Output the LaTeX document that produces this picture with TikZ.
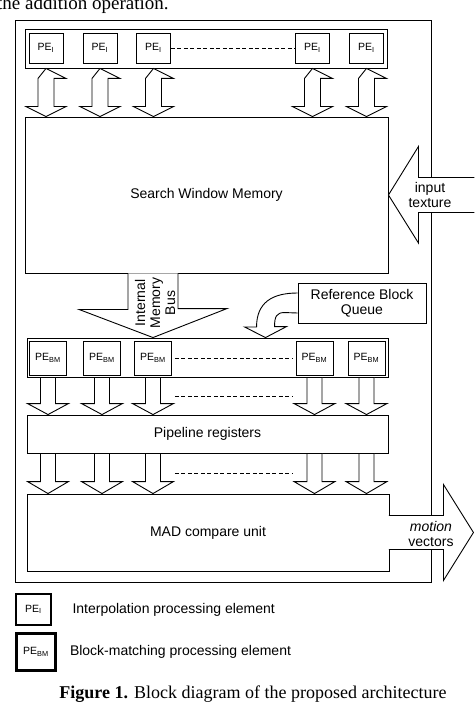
\documentclass[tikz,border=0pt]{standalone}
\usepackage{fontspec}
\setmainfont{Liberation Serif}
\setsansfont{Liberation Sans}
\usetikzlibrary{positioning,calc}

\newcommand{\bigtext}{\sffamily\fontsize{14}{15}\selectfont}
\newcommand{\petext}{\sffamily\fontsize{10.5}{12}\selectfont}

\begin{document}
\begin{tikzpicture}[
    x=1pt, y=-1pt,
    blockbox/.style={draw, line width=0.9pt, fill=white, inner sep=0pt, align=center, font=\bigtext},
    pebox/.style={draw, line width=0.8pt, fill=white, inner sep=0pt, font=\petext},
    legendbox/.style={draw, line width=2.6pt, inner sep=0pt, font=\petext},
    blockarrow/.style={draw, fill=white, line width=0.9pt},
    dashline/.style={line width=0.8pt, dash pattern=on 4pt off 2.5pt},
    plaintext/.style={inner sep=0pt, align=center, font=\bigtext}
  ]
  \useasboundingbox (0,0) rectangle (474,706);

  \node[anchor=base west, inner sep=0pt, font=\fontsize{19}{21}\selectfont] (bodytext) at (-3,10) {the addition operation.};
  \node[draw, line width=0.9pt, minimum width=416pt, minimum height=562pt] (frame) at (223,301) {};

  % interpolation row
  \node[blockbox, minimum width=362pt, minimum height=39pt] (perow) at (206,48.5) {};
  \node[pebox, minimum width=34pt, minimum height=30pt] (pei1) at (46,48) {PE\textsubscript{I}};
  \node[pebox, minimum width=34pt, minimum height=30pt] (pei2) at (100,48) {PE\textsubscript{I}};
  \node[pebox, minimum width=34pt, minimum height=30pt] (pei3) at (153.5,48) {PE\textsubscript{I}};
  \node[pebox, minimum width=34pt, minimum height=30pt] (pei4) at (312.5,48) {PE\textsubscript{I}};
  \node[pebox, minimum width=34pt, minimum height=30pt] (pei5) at (366.5,48) {PE\textsubscript{I}};
  \draw[dashline] (pei3) -- (pei4);

  \node[blockbox, minimum width=363pt, minimum height=156pt] (swm) at (206.5,195) {Search Window Memory};

  \foreach \i in {1,...,5}
    \draw[blockarrow] (pei\i |- perow.south) -- ++(20,10) -| ($(pei\i |- swm.north)+(8,-10)$) -- ++(12,0) -- (pei\i |- swm.north) -- ++(-20,-10) -| ($(pei\i |- perow.south)+(-8,10)$) -- cycle;

  \draw[blockarrow] ($(swm.east)+(86,-17.5)$) -- ++(-56,0) -- ++(0,-31) -- (swm.east) -- ++(30,48) -- ++(0,-30.5) -- ++(56,0);
  \node[plaintext] (intex) at (430,195) {input\\texture};

  % block-matching row
  \node[blockbox, minimum width=361pt, minimum height=39pt] (bmrow) at (207.5,357.5) {};
  \node[pebox, minimum width=37pt, minimum height=34pt] (pebm1) at (48,358) {PE\textsubscript{BM}};
  \node[pebox, minimum width=37pt, minimum height=34pt] (pebm2) at (102,358) {PE\textsubscript{BM}};
  \node[pebox, minimum width=37pt, minimum height=34pt] (pebm3) at (153,358) {PE\textsubscript{BM}};
  \node[pebox, minimum width=37pt, minimum height=34pt] (pebm4) at (314.5,358) {PE\textsubscript{BM}};
  \node[pebox, minimum width=37pt, minimum height=34pt] (pebm5) at (366.5,358) {PE\textsubscript{BM}};
  \draw[dashline, shorten <=3pt, shorten >=3pt] (pebm3) -- (pebm4);

  \draw[blockarrow] ($(pebm3 |- swm.south)+(-25,0)$) -- ++(0,36) -- ++(-49,0) -- (pebm3 |- bmrow.north) -- ++(74,-29) -- ++(-49,0) -- ($(pebm3 |- swm.south)+(25,0)$);
  \node[plaintext, rotate=90] (imbus) at (155,303) {Internal\\Memory\\Bus};

  \node[blockbox, minimum width=128pt, minimum height=40pt] (rbq) at (362,303) {Reference Block\\Queue};
  \draw[blockarrow] ($(rbq.west)+(0,-10)$) .. controls +(-26,0) and +(0,-24) .. ++(-41,34) -- ++(-12,0) -- ($(rbq.west |- bmrow.north)+(-32,0)$) -- ++(21,-11) -- ++(-12,0) .. controls +(0,-10) and +(-8,0) .. ++(10,-14) -- ($(rbq.west)+(0,10)$);

  \node[blockbox, minimum width=361pt, minimum height=38pt] (pipe) at (207.5,434) {Pipeline registers};
  \node[blockbox, minimum width=362pt, minimum height=77pt] (mad) at (208,532.5) {MAD compare unit};

  \foreach \i in {1,...,5}{
    \draw[blockarrow] ($(pebm\i |- bmrow.south)+(-7.5,0)$) |- ($(pebm\i |- pipe.north)+(-20.5,-11)$) -- (pebm\i |- pipe.north) -- ++(20.5,-11) -| ($(pebm\i |- bmrow.south)+(7.5,0)$) -- cycle;
    \draw[blockarrow] ($(pebm\i |- pipe.south)+(-7.5,0)$) |- ($(pebm\i |- mad.north)+(-20.5,-12)$) -- (pebm\i |- mad.north) -- ++(20.5,-12) -| ($(pebm\i |- pipe.south)+(7.5,0)$) -- cycle;
  }
  \draw[dashline] ($(pebm3.east |- pipe.north)+(3,-18)$) -- ($(pebm4.west |- pipe.north)+(-3,-18)$);
  \draw[dashline] ($(pebm3.east |- mad.north)+(3,-20)$) -- ($(pebm4.west |- mad.north)+(-3,-20)$);

  \draw[blockarrow] ($(mad.east)+(-0.6,-17)$) -- ++(54.6,0) -- ++(0,-31) -- ++(30,48) -- ++(-30,48) -- ++(0,-31) -- ($(mad.east)+(-0.6,17)$);
  \node[plaintext] (mv) at (431,534) {\textit{motion}\\vectors};

  % legend
  \node[legendbox, minimum width=35pt, minimum height=31pt] (legi) at (33.5,609.5) {PE\textsubscript{I}};
  \node[plaintext, right=20pt of legi] (legitext) {Interpolation processing element};
  \node[legendbox, minimum width=39pt, minimum height=37pt] (legbm) at (36,652) {PE\textsubscript{BM}};
  \node[plaintext, right=13pt of legbm] (legbmtext) {Block-matching processing element};

  \node[inner sep=0pt, font=\fontsize{18}{20}\selectfont] (caption) at (253,694) {\textbf{Figure 1.} Block diagram of the proposed architecture};
\end{tikzpicture}
\end{document}
